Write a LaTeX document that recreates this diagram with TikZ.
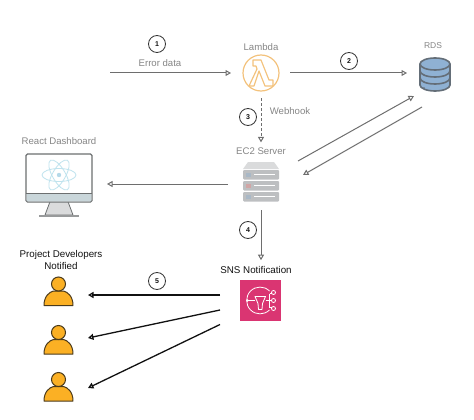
\documentclass[tikz,border=0pt]{standalone}
\usepackage{fontspec}
\setmainfont{Liberation Sans}
\usetikzlibrary{arrows.meta,positioning,calc}
\definecolor{ink}{HTML}{111111}
\definecolor{wire}{HTML}{6E6E6E}
\definecolor{muted}{HTML}{858585}
\definecolor{lamb}{HTML}{F3C27C}
\definecolor{dbfill}{HTML}{8FB1D3}
\definecolor{dbdraw}{HTML}{646E78}
\definecolor{rack}{HTML}{BDBFC1}
\definecolor{rackt}{HTML}{DADBDC}
\definecolor{rackb}{HTML}{A9B8C6}
\definecolor{rackr}{HTML}{D0A5A5}
\definecolor{screenl}{HTML}{C9D6DA}
\definecolor{screend}{HTML}{6C6F70}
\definecolor{atom}{HTML}{BFE3EE}
\definecolor{snsbg}{HTML}{DA3572}
\definecolor{userf}{HTML}{FBB024}
\definecolor{userd}{HTML}{4A3A1C}
\tikzset{
  x=1pt,y=-1pt,
  spot/.style={inner sep=0pt,outer sep=0pt},
  lbl/.style={font=\fontsize{9.6}{12}\selectfont,text=muted,align=center,inner sep=0pt},
  blk/.style={font=\fontsize{9.8}{12}\selectfont,text=ink,align=center,inner sep=0pt},
  num/.style={circle,draw=ink!85,line width=0.8pt,minimum size=17pt,inner sep=0pt,
    font=\fontsize{7}{8}\selectfont\bfseries,text=ink},
  flow/.style={-{Triangle[open,length=5.5pt,width=6pt]},line width=1pt,color=wire},
  fb/.style={flow,dash pattern=on 3pt off 2pt},
  push/.style={-{Triangle[open,length=5.5pt,width=6pt]},line width=1.3pt,color=ink},
  lambdaicon/.pic={
    \draw[lamb,line width=1.2pt] (0,0) circle (18);
    \draw[lamb,line width=1.2pt,line join=round] (-8,-13) -- (0,-13) -- (8,7) -- (12,7) -- (12,13)
      -- (4,13) -- (-2,-2) -- (-7,13) -- (-12,13) -- (-4,-4) -- (-5,-7) -- (-8,-7) -- cycle;
  },
  dbicon/.pic={
    \draw[dbdraw,fill=dbfill,line width=1.6pt] (-15,-10) -- (-15,11) arc (180:0:15 and 6) -- (15,-10)
      arc (0:-180:15 and 6) -- cycle;
    \draw[dbdraw,line width=1.6pt] (-15,-10) arc (180:0:15 and 6);
    \draw[dbdraw,line width=1.6pt] (-15,-3) arc (180:0:15 and 6);
    \draw[dbdraw,line width=1.6pt] (-15,4) arc (180:0:15 and 6);
    \fill[dbdraw] (-11,1) circle (0.9) (-11,8) circle (0.9) (-11,14) circle (0.9);
  },
  rackicon/.pic={
    \fill[rackt] (-13,-20) -- (13,-20) -- (18,-13) -- (-18,-13) -- cycle;
    \foreach \ya/\bcol in {-12/rackb,-1/rackr,10/rackb}{
      \fill[rack,rounded corners=1pt] (-18,\ya) rectangle (18,\ya+9.5);
      \fill[\bcol] (-15,\ya+3) rectangle (-10,\ya+6.5);
      \draw[white,line width=1pt] (-7,\ya+4.7) -- (14,\ya+4.7);
    }
  },
  screenicon/.pic={
    \fill[rackt,draw=screend,line width=0.8pt] (-8,24) -- (8,24) -- (14,40) -- (-14,40) -- cycle;
    \fill[screend!70] (-20,40) -- (20,40) -- (20,42) -- (-20,42) -- cycle;
    \draw[screend,fill=white,rounded corners=1.5pt,line width=1.2pt] (-33,-21) rectangle (33,27);
    \fill[screenl,rounded corners=1pt] (-32.4,18) rectangle (32.4,26.4);
    \draw[screend,line width=0.8pt] (-33,18) -- (33,18);
    \foreach \ang in {0,60,120}{
      \draw[atom,line width=0.8pt,rotate=\ang] (0,0) ellipse (17 and 6.5);
    }
    \fill[atom!80!dbfill] (0,0) circle (2.2);
  },
  snsicon/.pic={
    \fill[snsbg] (-20.5,-20.5) rectangle (20.5,20.5);
    \draw[white,line width=0.8pt] (9,-9.5) arc (-45:-315:13.4);
    \draw[white,line width=0.8pt,line join=round] (-5.5,-4) -- (5,-4) -- (2,3) -- (1.5,9) -- (-2,9) -- (-2.5,3) -- cycle;
    \draw[white,line width=0.8pt] (-13,0) -- (-6,0) (5,0) -- (9,0) (9,-7) -- (9,7)
      (9,0) -- (11.5,0) (9,-7) -- (11.5,-7) (9,7) -- (11.5,7);
    \draw[white,line width=0.8pt] (13,0) circle (2) (13,-8) circle (2) (13,8) circle (2);
    \fill[white] (-13,0) circle (1.3);
  },
  usericon/.pic={
    \draw[userd,fill=userf,line width=1pt,line join=round] (-14.5,14.5) .. controls (-14.5,5) and (-9,1) .. (-5,0)
      -- (5,0) .. controls (9,1) and (14.5,5) .. (14.5,14.5) -- cycle;
    \draw[userd,fill=userf,line width=1pt] (0,-7) circle (7);
  }
}
\begin{document}
\begin{tikzpicture}
  \useasboundingbox (0,0) rectangle (474,420);
  % icons
  \node[spot,circle,minimum size=36pt] (lambda) at (261,73) {};
  \node[spot,minimum width=32pt,minimum height=34pt] (rds) at (435,74) {};
  \node[spot,minimum width=36pt,minimum height=40pt] (ec2) at (261,182) {};
  \node[spot,minimum width=66pt,minimum height=63pt] (dash) at (59,185.5) {};
  \node[spot,minimum width=41pt,minimum height=41pt] (sns) at (260.5,300.5) {};
  \node[spot,minimum width=29pt,minimum height=29pt] (dev1) at (58.5,291) {};
  \node[spot,minimum width=29pt,minimum height=29pt] (dev2) at (58.5,339.5) {};
  \node[spot,minimum width=29pt,minimum height=29pt] (dev3) at (58.5,386.5) {};
  \pic at (lambda) {lambdaicon};
  \pic at (rds) {dbicon};
  \pic at (ec2) {rackicon};
  \pic at (59,175) {screenicon};
  \pic at (sns) {snsicon};
  \pic at (dev1) {usericon};
  \pic at (dev2) {usericon};
  \pic at (dev3) {usericon};
  % labels
  \node[lbl] (lambdat) at (261,47) {Lambda};
  \node[lbl,font=\fontsize{8.5}{10}\selectfont] (rdst) at (433,46) {RDS};
  \node[lbl] (ec2t) at (261,151) {EC2 Server};
  \node[lbl] (dasht) at (59,141) {React Dashboard};
  \node[blk] (snst) at (256,270) {SNS Notification};
  \node[blk] (devt) at (61,260) {Project Developers\\Notified};
  \node[lbl] (errt) at (160,63) {Error data};
  \node[lbl] (hookt) at (290,111) {Webhook};
  % steps
  \node[num] (n1) at (157,44) {1};
  \node[num] (n2) at (349,61) {2};
  \node[num] (n3) at (248,117) {3};
  \node[num] (n4) at (248,230) {4};
  \node[num] (n5) at (157,281) {5};
  % connectors
  \coordinate (src) at (110,73);
  \draw[flow] (src) -- ([xshift=-12pt]lambda.west);
  \draw[flow] ([xshift=11pt]lambda.east) -- ([xshift=-12pt,yshift=1pt]rds.west);
  \draw[fb] ([yshift=-7pt]lambda.south) -- ([yshift=5pt]ec2t.north);
  \draw[flow] ([shift={(19,-21)}]ec2.east) -- ([shift={(-21,22)}]rds.center);
  \draw[flow] ([shift={(-13,33)}]rds.center) -- ([shift={(42,-7)}]ec2.center);
  \draw[flow] ([xshift=-15pt,yshift=-2pt]ec2.west) -- ([xshift=15pt,yshift=1.5pt]dash.east);
  \draw[flow] ([yshift=-8pt]ec2.south) -- ([xshift=5pt,yshift=6pt]snst.north);
  \draw[push] ([xshift=-20pt,yshift=5.5pt]sns.west) -- ([xshift=15pt,yshift=-4pt]dev1.east);
  \draw[push] ([xshift=-20pt,yshift=-9.5pt]sns.west) -- ([xshift=15pt,yshift=1.5pt]dev2.east);
  \draw[push] ([xshift=-20pt,yshift=-24pt]sns.west) -- ([xshift=15pt,yshift=-1.5pt]dev3.east);
\end{tikzpicture}
\end{document}
